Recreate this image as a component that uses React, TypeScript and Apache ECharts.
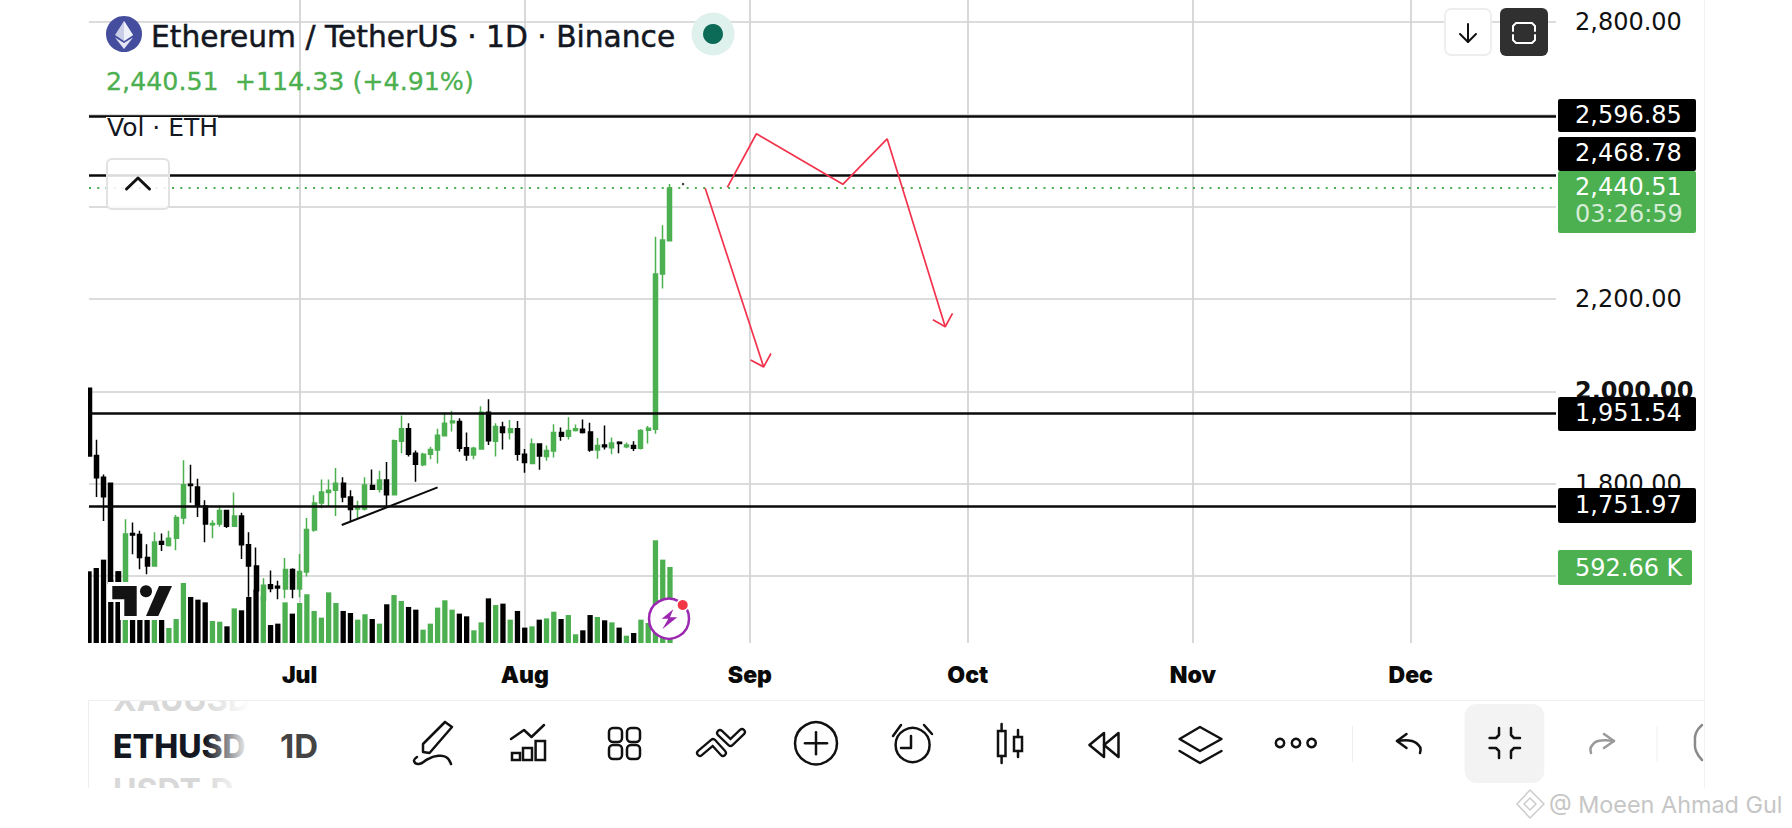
import React, { useEffect, useRef } from "react";
import * as echarts from "echarts";

const GREEN = "#4CAF50";
const BLACK = "#000000";
const RED = "#f2334d";
const INK = "#131722";
const FONT = "Inter, 'Noto Sans', sans-serif";
const WIDE = "'DejaVu Sans', Inter, sans-serif";

const monthLengths: [string, number][] = [["Jun", 30], ["Jul", 31], ["Aug", 31], ["Sep", 30], ["Oct", 31], ["Nov", 30], ["Dec", 21]];
const categories: string[] = [];
monthLengths.forEach(([m, n]) => {
  for (let d = m === "Jun" ? 2 : 1; d <= n; d++) categories.push(`${m} ${d}`);
});

// [open, close, low, high]
const candles: number[][] = [
  [2007,1860,1860,2007],[1861,1813,1771,1895],[1814,1772,1719,1820],[1801,1584,1548,1801],[1609,1562,1545,1609],
  [1584,1691,1577,1723],[1692,1689,1647,1716],[1690,1640,1615,1698],[1640,1622,1604,1669],[1622,1674,1622,1695],
  [1675,1669,1654,1692],[1666,1682,1664,1698],[1682,1727,1656,1732],[1726,1798,1712,1851],[1799,1796,1759,1841],
  [1793,1752,1728,1811],[1752,1713,1673,1764],[1711,1714,1682,1721],[1713,1742,1707,1752],[1742,1708,1704,1743],
  [1708,1730,1707,1781],[1730,1668,1637,1737],[1668,1622,1555,1695],[1622,1568,1555,1662],[1548,1580,1548,1595],
  [1581,1573,1565,1612],[1578,1574,1550,1590],[1572,1614,1552,1639],[1614,1572,1552,1617],[1572,1610,1554,1648],
  [1609,1701,1599,1726],[1700,1758,1696,1775],[1758,1782,1747,1809],[1781,1786,1750,1809],[1786,1801,1730,1834],
  [1801,1771,1760,1814],[1771,1744,1718,1786],[1745,1748,1724,1763],[1745,1797,1742,1814],[1796,1788,1788,1831],
  [1788,1808,1781,1828],[1808,1776,1752,1847],[1776,1893,1776,1896],[1892,1919,1866,1948],[1919,1864,1859,1931],
  [1866,1842,1804,1872],[1841,1864,1838,1867],[1864,1874,1853,1880],[1873,1905,1844,1919],[1904,1931,1904,1954],
  [1932,1936,1913,1958],[1935,1877,1869,1942],[1878,1862,1850,1911],[1862,1877,1853,1880],[1875,1955,1875,1968],
  [1955,1893,1884,1983],[1892,1924,1859,1931],[1923,1911,1874,1934],[1911,1919,1896,1938],[1919,1864,1850,1936],
  [1864,1846,1824,1875],[1844,1886,1844,1898],[1886,1860,1830,1887],[1859,1872,1850,1883],[1871,1911,1857,1929],
  [1911,1903,1893,1922],[1903,1915,1896,1944],[1915,1919,1913,1928],[1918,1911,1909,1939],[1912,1873,1869,1932],
  [1873,1883,1854,1899],[1884,1880,1874,1926],[1878,1888,1864,1900],[1890,1887,1866,1892],[1880,1884,1877,1889],
  [1883,1877,1871,1892],[1877,1915,1874,1918],[1916,1920,1887,1925],[1918,2254,1908,2335],[2254,2328,2223,2360],
  [2326.18,2440.51,2326,2449],
];

// thousands of ETH
const volumesK: number[] = [
  559,585,650,494,559,390,338,364,390,286,234,117,187,468,359,338,317,172,166,130,
  270,255,359,416,364,140,151,317,229,312,380,250,198,395,312,250,234,182,224,187,
  151,302,374,328,281,260,104,151,276,333,260,229,208,99,161,348,296,307,182,250,
  120,130,182,192,244,187,218,68,99,218,203,177,161,120,57,78,182,156,801,650,592.66,
];

const blackLevels: number[] = [2596.85, 2468.78, 1951.54, 1751.97];
const lastPrice = 2440.51;
const visiblePriceTicks: number[] = [2800, 2200, 2000, 1800];

// user drawings as [day index, price]
const doubleTopPath: number[][] = [[87.9,2442],[91.9,2558],[103.8,2448.5],[109.9,2547],[117.9,2140]];
const doubleTopHead: number[][] = [[116.2,2155],[117.9,2140],[118.9,2169]];
const dropPath: number[][] = [[84.85,2440],[92.9,2053]];
const dropHead: number[][] = [[91.1,2068],[92.9,2053],[93.9,2082]];
const trendLine: number[][] = [[34.8,1710.5],[48,1792]];
const strayDot: number[][] = [[81.8,2449]];

type Badge = { text: string; y0: number; y1: number; tx: number; fill: string; sub?: string };
const badges: Badge[] = [
  { text: "2,596.85", y0: 99, y1: 132, tx: 115, fill: BLACK },
  { text: "2,468.78", y0: 137, y1: 171, tx: 153, fill: BLACK },
  { text: "2,440.51", y0: 171, y1: 233, tx: 187, fill: GREEN, sub: "03:26:59" },
  { text: "1,951.54", y0: 397, y1: 431, tx: 413, fill: BLACK },
  { text: "1,751.97", y0: 488, y1: 523, tx: 505, fill: BLACK },
];

const fmtPrice = (v: number) => v.toLocaleString("en-US", { minimumFractionDigits: 2, maximumFractionDigits: 2 });

let zc = 100;
const nz = () => zc++;
const txt = (text: string, x: number, y: number, fill: string, fontSize: number, fontWeight: any = 400, fontFamily = FONT, thicken = 0) => ({
  type: "text", z: nz(), silent: true,
  style: {
    text, x, y, fill, fontSize, fontWeight, fontFamily, align: "left", verticalAlign: "middle",
    ...(thicken ? { stroke: fill, lineWidth: thicken } : {}),
  },
});
const pl = (pts: number[][], stroke = "#111", lineWidth = 2.5, smooth: any = 0) => ({
  type: "polyline", z: nz(), silent: true,
  shape: { points: pts, smooth }, style: { stroke, lineWidth, fill: "none", lineCap: "round", lineJoin: "round" },
});
const pg = (pts: number[][], fill: string, stroke = "none", lineWidth = 0) => ({
  type: "polygon", z: nz(), silent: true, shape: { points: pts }, style: { fill, stroke, lineWidth, lineJoin: "round" },
});
const rc = (x: number, y: number, w: number, h: number, fill: string, stroke = "none", lineWidth = 0, r = 0) => ({
  type: "rect", z: nz(), silent: true, shape: { x, y, width: w, height: h, r }, style: { fill, stroke, lineWidth },
});
const ci = (cx: number, cy: number, r: number, fill: string, stroke = "none", lineWidth = 0) => ({
  type: "circle", z: nz(), silent: true, shape: { cx, cy, r }, style: { fill, stroke, lineWidth },
});

function buildGraphics(): any[] {
  const fade = new echarts.graphic.LinearGradient(0, 0, 1, 0, [
    { offset: 0, color: "rgba(255,255,255,0)" }, { offset: 1, color: "#ffffff" },
  ]);
  const els: any[] = [
    // trims the half bars that hang over the left edge of the plot
    rc(70, 300, 18, 350, "#ffffff"),
    // header
    ci(124, 34, 18, "#454e9e"),
    pg([[124, 21], [133, 35], [124, 41], [115, 35]], "#c9cde8"),
    pg([[124, 21], [133, 35], [124, 41]], "#eef0fa"),
    pg([[115, 37.5], [124, 43], [133, 37.5], [124, 49]], "#e4e6f5"),
    txt("Ethereum / TetherUS · 1D · Binance", 151, 36, INK, 29.7, 400, WIDE, 0.5),
    ci(713, 34, 21.5, "#dff1ec"),
    ci(713, 34, 10, "#0b6b57"),
    txt("2,440.51  +114.33 (+4.91%)", 106, 81.5, GREEN, 25.3, 400, WIDE, 0.3),
    rc(106, 117, 112, 24, "#ffffff"),
    txt("Vol · ETH", 107, 127, INK, 25, 400, WIDE),
    // collapse button
    rc(107, 159, 62, 50, "rgba(255,255,255,0.85)", "#e2e2e2", 2, 5),
    pl([[126.5, 189], [138, 178], [149.5, 189]], "#111", 3),
    // top-right buttons
    rc(1445, 9, 46, 46, "#ffffff", "#eeeeee", 2, 6),
    pl([[1468, 24], [1468, 42]], "#111", 2),
    pl([[1460, 34], [1468, 42], [1476, 34]], "#111", 2),
    rc(1500, 8, 48, 48, "#303030", "none", 0, 6),
    pl([[1513, 31], [1513, 26], [1516, 23], [1532, 23], [1535, 26], [1535, 31]], "#ffffff", 2),
    pl([[1513, 35], [1513, 40], [1516, 43], [1532, 43], [1535, 40], [1535, 35]], "#ffffff", 2),
  ];
  // price badges
  badges.forEach((b) => {
    els.push(rc(1558, b.y0, 138, b.y1 - b.y0, b.fill, "none", 0, 2));
    els.push(txt(b.text, 1575, b.tx, "#ffffff", 24, 400, WIDE));
    if (b.sub) els.push(txt(b.sub, 1575, 214, "#d6ecd7", 24, 400, WIDE));
  });
  els.push(rc(1558, 550, 134, 35, GREEN, "none", 0, 2));
  els.push(txt("592.66 K", 1575, 568, "#ffffff", 24, 400, WIDE));
  // TradingView mark
  els.push(pg([[108, 582], [173.3, 582], [173.3, 620], [120, 620], [120, 602], [108, 602]], "#ffffff"));
  els.push(pg([[112.3, 586], [136.7, 586], [136.7, 616], [124.3, 616], [124.3, 599.3], [112.3, 599.3]], "#131313"));
  els.push(ci(146, 591.3, 6, "#131313"));
  els.push(pg([[159, 586], [172, 586], [158.3, 616], [146, 616]], "#131313"));
  // lightning badge
  els.push(ci(669, 618.7, 20, "#ffffff", "#9c27b0", 2.5));
  els.push(pg([[673.3, 609.3], [661.7, 618.7], [668.3, 618.7], [662.3, 629.3], [677.3, 617.3], [670, 617.3]], "#9c27b0"));
  els.push(ci(682.7, 605, 6.5, "#ffffff"));
  els.push(ci(682.7, 605, 5, "#f23645"));
  // toolbar tickers
  els.push(txt("XAUUSD", 113, 699.5, "#d8d8d8", 32, 700));
  els.push(txt("USDT.D", 113, 790, "#d8d8d8", 32, 700));
  els.push(rc(100, 684, 170, 16, "#ffffff"));
  els.push(rc(100, 788, 170, 40, "#ffffff"));
  els.push(txt("ETHUSD", 113, 746, INK, 32, 800));
  els.push({ type: "rect", z: nz(), silent: true, shape: { x: 205, y: 701, width: 45, height: 87 }, style: { fill: fade } });
  els.push(txt("1D", 280, 746, "#444444", 33, 700));
  // frame lines
  els.push(rc(88, 700, 1616, 1, "#eeeeee"));
  els.push(rc(88, 700, 1, 88, "#eeeeee"));
  els.push(rc(1704, 0, 1, 788, "#f2f2f2"));
  // pen
  els.push(pl([[445, 722], [452, 727], [429.5, 753], [423, 752], [423, 744], [445, 722]], "#111", 2.5));
  els.push(pl([[417, 757], [414, 761], [419, 764], [428, 759], [437, 756], [446, 757], [451, 764]], "#111", 2.5, 0.5));
  // indicators
  els.push(pl([[511, 739], [524, 730], [531.5, 737], [544, 725]], "#111", 2.5));
  els.push(rc(512, 753, 8, 7, "none", "#111", 2.5));
  els.push(rc(523, 748, 9, 12, "none", "#111", 2.5));
  els.push(rc(535.6, 741, 9.4, 19, "none", "#111", 2.5));
  // layouts
  [[609, 728], [627, 728], [609, 745], [627, 745]].forEach(([x, y]) => els.push(rc(x, y, 13, 14, "none", "#111", 2.5, 4)));
  // chevrons
  els.push(pl([[700, 753], [713, 742], [723, 753]], "#111", 8));
  els.push(pl([[700, 753], [713, 742], [723, 753]], "#fff", 3.5));
  els.push(pl([[720, 733], [730.5, 743], [742, 732]], "#111", 8));
  els.push(pl([[720, 733], [730.5, 743], [742, 732]], "#fff", 3.5));
  // plus
  els.push(ci(816, 743.3, 21, "none", "#111", 2.5));
  els.push(pl([[805, 743.3], [827, 743.3]], "#111", 2.5));
  els.push(pl([[816, 732.3], [816, 754.3]], "#111", 2.5));
  // alarm
  els.push(ci(912.6, 745, 17, "none", "#111", 2.5));
  els.push(pl([[911, 736], [911, 748], [901, 748]], "#111", 2.5));
  els.push(pl([[893, 736], [901, 725]], "#111", 2.5));
  els.push(pl([[932, 734], [924, 725]], "#111", 2.5));
  // candles icon
  els.push(pl([[1001.6, 724], [1001.6, 731]], "#111", 2.5));
  els.push(pl([[1001.6, 756], [1001.6, 763]], "#111", 2.5));
  els.push(rc(998, 731, 7.5, 25, "none", "#111", 2.5));
  els.push(pl([[1018, 730], [1018, 737]], "#111", 2.5));
  els.push(pl([[1018, 751], [1018, 757]], "#111", 2.5));
  els.push(rc(1014, 737, 8, 14, "none", "#111", 2.5));
  // rewind
  els.push(pg([[1104, 733], [1089.4, 745], [1104, 757]], "none", "#111", 2.5));
  els.push(pg([[1118.5, 733], [1104, 745], [1118.5, 757]], "none", "#111", 2.5));
  // layers
  els.push(pg([[1200, 727], [1221.5, 739], [1200, 751], [1179.6, 739]], "none", "#111", 2.5));
  els.push(pl([[1179.6, 751], [1200, 763], [1221.5, 751]], "#111", 2.5));
  // more
  [1280, 1296, 1311.6].forEach((x) => els.push(ci(x, 743, 4.2, "none", "#111", 2.5)));
  els.push(rc(1352, 726, 1, 36, "#eeeeee"));
  // undo
  els.push(pl([[1406.5, 734], [1397, 741], [1406.5, 748]], "#111", 2.5));
  els.push(pl([[1397, 741], [1412, 741], [1420, 747], [1420, 753]], "#111", 2.5, 0.4));
  // compress
  els.push(rc(1464.6, 704, 79.7, 79, "#f3f3f3", "none", 0, 12));
  els.push(pl([[1489.6, 738], [1496, 738], [1499, 735], [1499, 728]], "#111", 2.5));
  els.push(pl([[1520, 738], [1514, 738], [1511, 735], [1511, 728]], "#111", 2.5));
  els.push(pl([[1489.6, 748], [1496, 748], [1499, 751], [1499, 758]], "#111", 2.5));
  els.push(pl([[1520, 748], [1514, 748], [1511, 751], [1511, 758]], "#111", 2.5));
  // redo
  els.push(pl([[1604, 734], [1614, 741], [1604, 748]], "#9a9a9a", 2.5));
  els.push(pl([[1614, 741], [1598, 741], [1591, 747], [1591, 753]], "#9a9a9a", 2.5, 0.4));
  els.push(rc(1656.6, 726, 1, 36, "#eeeeee"));
  els.push(pl([[1702, 725], [1696, 733], [1695, 742], [1696, 751], [1702, 760]], "#8a8a8a", 2.5, 0.5));
  // watermark
  els.push(pg([[1530, 790], [1544, 804], [1530, 818], [1517, 804]], "none", "#cccccc", 1.5));
  els.push(pg([[1530, 798], [1536, 804], [1530, 810], [1524, 804]], "none", "#cccccc", 1.5));
  els.push(txt("@ Moeen Ahmad Gul", 1549, 804, "#c6c6c6", 23.4, 400));
  return els;
}

function buildOption(): any {
  const annotation = (name: string, data: number[][], color: string, width: number) => ({
    name, type: "line", xAxisIndex: 2, yAxisIndex: 0, data, symbol: "none", silent: true, z: 20,
    lineStyle: { color, width }, itemStyle: { color }, clip: false,
  });
  return {
    animation: false,
    backgroundColor: "#ffffff",
    grid: [
      { left: 89, width: 1467, top: 0, height: 668.4 },
      { left: 89, width: 1467, top: 0, height: 643 },
    ],
    xAxis: [
      { type: "category", gridIndex: 0, data: categories, boundaryGap: false, show: false },
      {
        type: "category", gridIndex: 1, data: categories, boundaryGap: false,
        axisLine: { show: false }, axisTick: { show: false },
        axisLabel: {
          interval: (_: number, v: string) => v.endsWith(" 1"),
          formatter: (v: string) => v.split(" ")[0],
          color: "#0a0a0a", fontFamily: FONT, fontWeight: 900, fontSize: 23, margin: 20,
        },
        splitLine: {
          show: true,
          interval: (_: number, v: string) => v.endsWith(" 1"),
          lineStyle: { color: "#d4d4d4", width: 1.8 },
        },
      },
      { type: "value", gridIndex: 0, min: 0, max: 202, show: false },
    ],
    yAxis: [
      {
        type: "value", gridIndex: 0, position: "right", min: 1400, max: 2847.65, interval: 200, scale: true,
        axisLine: { show: false }, axisTick: { show: false },
        splitLine: { show: true, showMinLine: false, showMaxLine: false, lineStyle: { color: "#dcdcdc", width: 1.8 } },
        axisLabel: {
          margin: 19, color: "#111", fontFamily: WIDE, fontSize: 24, fontWeight: 400, align: "left",
          showMinLabel: false,
          formatter: (v: number) => {
            if (!visiblePriceTicks.includes(v)) return "";
            return v === 2000 ? `{strong|${fmtPrice(v)}}` : fmtPrice(v);
          },
          rich: { strong: { fontFamily: WIDE, fontSize: 24, fontWeight: 700, color: "#111" } },
        },
      },
      { type: "value", gridIndex: 1, min: 0, max: 5014, show: false },
    ],
    series: [
      {
        name: "Vol", type: "bar", xAxisIndex: 1, yAxisIndex: 1, barWidth: 5.3, z: 2,
        data: volumesK.map((v, i) => ({
          value: v,
          itemStyle: { color: candles[i][1] >= candles[i][0] ? GREEN : BLACK },
        })),
      },
      {
        name: "ETHUSDT", type: "candlestick", xAxisIndex: 0, yAxisIndex: 0, barWidth: 4.5, z: 3,
        data: candles,
        itemStyle: { color: GREEN, color0: BLACK, borderColor: GREEN, borderColor0: BLACK, borderWidth: 1.5 },
        markLine: {
          silent: true, symbol: "none", animation: false, precision: 2,
          label: { show: false },
          data: [
            ...blackLevels.map((v) => ({ yAxis: v, lineStyle: { color: "#0a0a0a", width: 2.5, type: "solid" } })),
            { yAxis: lastPrice, lineStyle: { color: GREEN, width: 2, type: [2, 6.3] } },
          ],
        },
      },
      annotation("Double top", doubleTopPath, RED, 1.7),
      annotation("Double top head", doubleTopHead, RED, 1.7),
      annotation("Drop", dropPath, RED, 1.7),
      annotation("Drop head", dropHead, RED, 1.7),
      annotation("Trend", trendLine, "#0a0a0a", 2),
      {
        name: "Dot", type: "scatter", xAxisIndex: 2, yAxisIndex: 0, data: strayDot,
        symbolSize: 2.5, itemStyle: { color: "#111" }, silent: true, z: 20,
      },
    ],
    graphic: { elements: buildGraphics() },
  };
}

export default function App() {
  const ref = useRef<HTMLDivElement>(null);
  useEffect(() => {
    if (!ref.current) return;
    const chart = echarts.init(ref.current, undefined, { renderer: "svg" });
    chart.setOption(buildOption());
    return () => chart.dispose();
  }, []);
  return <div ref={ref} style={{ position: "fixed", left: 0, top: 0, width: 1792, height: 828, background: "#fff" }} />;
}
